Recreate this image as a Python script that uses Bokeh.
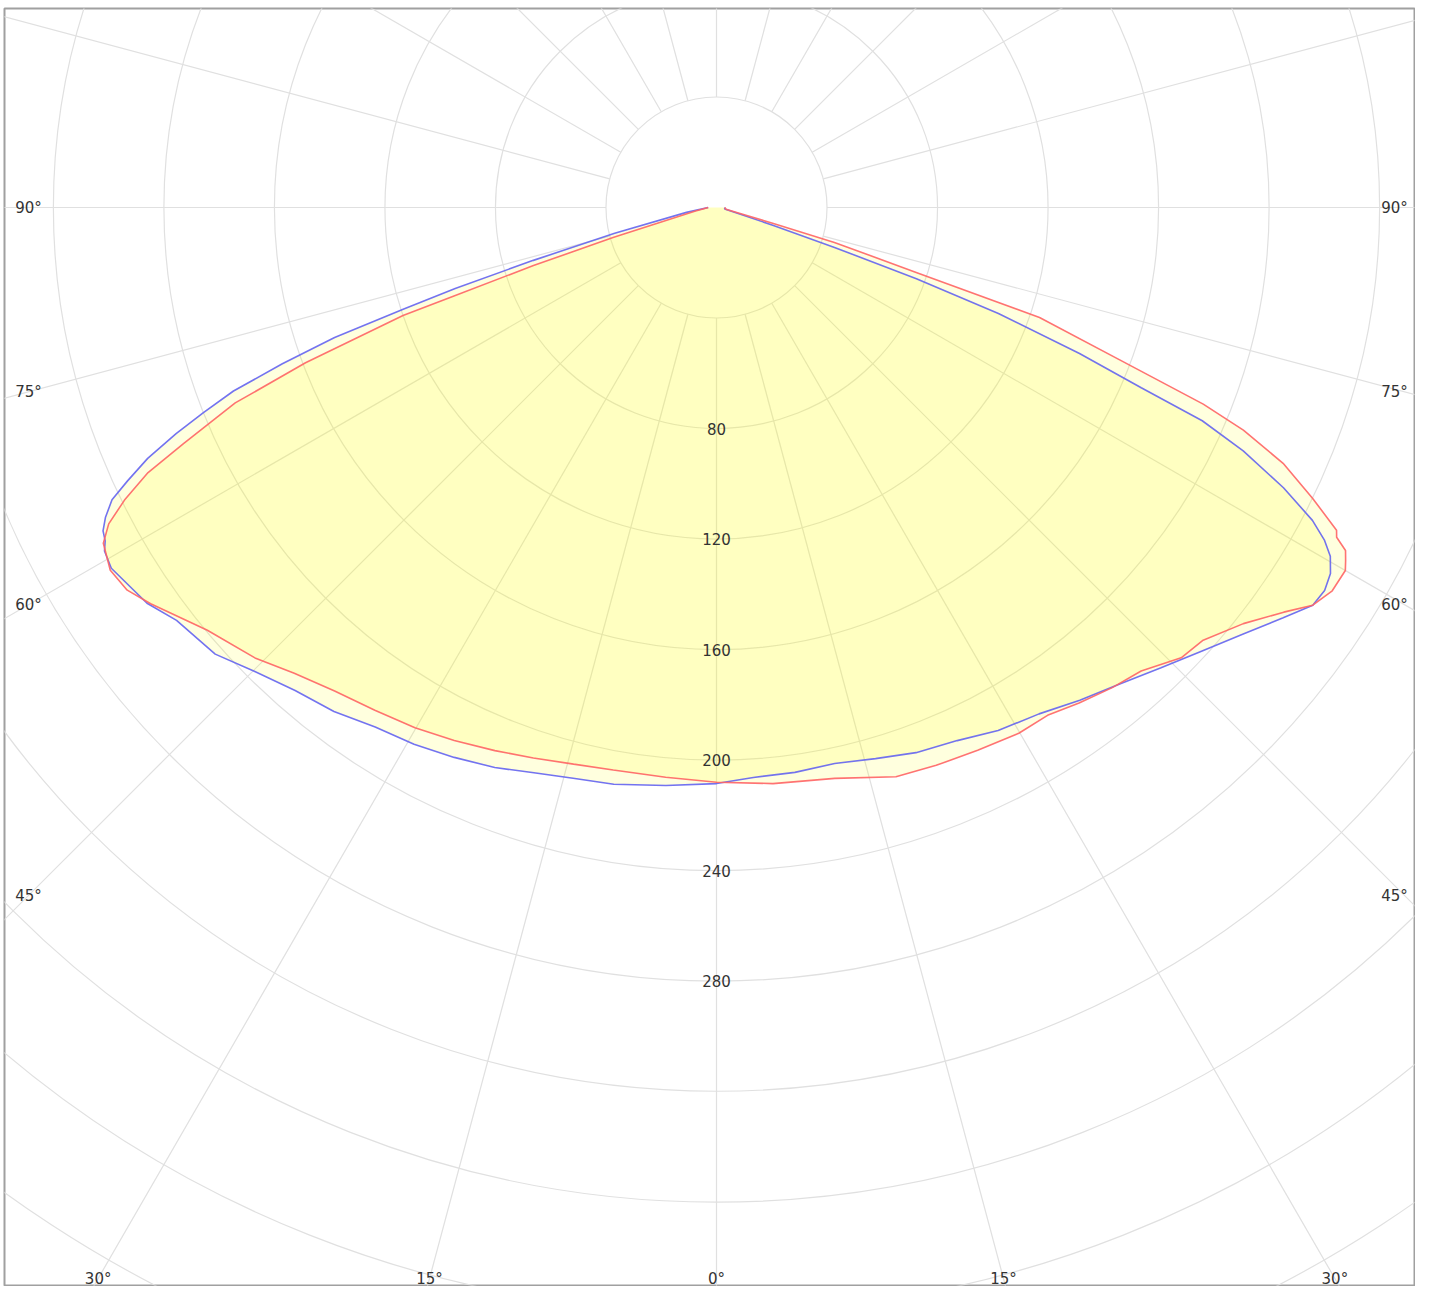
import numpy as np
from bokeh.plotting import figure
from bokeh.models import Range1d
from bokeh.embed import file_html
from bokeh.resources import INLINE
from bokeh.core.properties import value

# photometric data: gamma angle (deg, left side negative) and intensity (cd/klm)
# C0-C180 plane (blue curve)
blue_angle = [-90, -80.8, -75.8, -73.9, -72.8, -72.0, -71.2, -70.2, -69.2, -68.2,
              -67.3, -66.2, -65.1, -64.2, -63.1, -62.2, -61.4, -60.7, -59.2, -55.2,
              -52.6, -48.3, -44.9, -41.1, -37.2, -33.3, -29.4, -25.5, -21.6, -17.9,
              -14.1, -10.1, -5.0, 0, 3.7, 7.9, 12.0, 16.1, 20.1, 24.3,
              28.3, 32.5, 36.4, 40.3, 44.0, 47.6, 51.0, 54.1, 56.3, 57.8,
              59.2, 60.4, 61.3, 62.3, 63.7, 65.2, 66.3, 67.0, 68.1, 69.4,
              70.4, 71.3, 72.5, 75, 80, 90]
blue_cd = [3, 11, 38, 69, 99, 119, 146, 167, 187, 200,
           212, 225, 235, 243, 248, 251, 252, 254, 255, 251,
           246, 243, 237, 232, 229, 225, 223, 220.5, 218, 215,
           213, 212, 210, 208.5, 206.7, 206.4, 205.7, 207.6, 210.1, 211.7,
           215, 217.3, 221.6, 226, 231.6, 238, 245.3, 253.2, 259.4, 260.1,
           258.7, 255.5, 250.9, 243.6, 228.9, 210, 192, 167, 141.6, 109,
           76.8, 45.1, 21.6, 7, 3, 3]

# C90-C270 plane (red curve)
red_angle = [-90, -80, -73.8, -72.4, -71.4, -71.0, -69.3, -67.9, -66.1, -65.0,
             -63.7, -62.5, -61.3, -59.1, -57.0, -55.0, -50.3, -45.7, -42.2, -38.3,
             -34.2, -30.1, -26.2, -22.2, -18.4, -14.4, -10.4, -5.1, 0, 5.6,
             11.7, 17.5, 21.5, 25.7, 29.9, 33.1, 36.2, 39.5, 42.5, 45.9,
             48.3, 51.7, 54.5, 56.3, 58.1, 60.0, 60.7, 61.4, 62.0, 62.5,
             64.0, 65.7, 67.1, 68.0, 69.3, 71.2, 72.0, 73.5, 74.3, 76,
             80, 90]
red_cd = [3, 8, 39, 69.5, 100, 120, 159, 188, 211, 227,
          239, 248, 253, 255.7, 254.3, 250, 239.5, 233.4, 227.5, 223,
          220, 217.6, 215, 212.3, 210, 208, 207, 207, 208, 209.5,
          211, 216, 217, 218, 219.5, 219.4, 222.2, 225.2, 227.5, 234.2,
          235.6, 243, 252.2, 259.4, 262.5, 262.8, 261.1, 259.3, 254.2, 253,
          240, 225, 207, 190, 156, 123.5, 76, 44.5, 21.4, 8.5,
          3.5, 3]

ring_values = [40, 80, 120, 160, 200, 240, 280, 320, 360, 400, 440, 480]
ring_labels = [80, 120, 160, 200, 240, 280]
spoke_angles = list(range(0, 360, 15))
angle_labels = [-90, -75, -60, -45, -30, -15, 0, 15, 30, 45, 60, 75, 90]

# layout
W, H = 1415, 1286
scale = 2.763              # pixels per cd/klm
bl, bt, br, bb = 4, 8, 1, 1  # borders round the frame
fw, fh = W - bl - br, H - bt - bb
cx, cy = 716 - bl, 207 - bt  # centre of the diagram inside the frame (px)

p = figure(width=W, height=H, output_backend="svg", toolbar_location=None,
           x_range=Range1d(-cx / scale, (fw - cx) / scale),
           y_range=Range1d(-(fh - cy) / scale, cy / scale),
           min_border_left=bl, min_border_top=bt,
           min_border_right=br, min_border_bottom=bb)
p.axis.visible = False
p.grid.visible = False
p.background_fill_color = "white"
p.border_fill_color = "white"
p.outline_line_color = "#a0a0a0"
p.outline_line_width = 2


def to_xy(ang, r):
    a = np.radians(np.asarray(ang, dtype=float))
    r = np.asarray(r, dtype=float)
    return r * np.sin(a), -r * np.cos(a)


grid_col = "#e0e0e0"
p.circle(x=[0] * len(ring_values), y=[0] * len(ring_values), radius=ring_values,
         fill_color=None, line_color=grid_col, line_width=1.2)

sx, sy = [], []
for a in spoke_angles:
    x0, y0 = to_xy([a, a], [ring_values[0], 600])
    sx.append(list(x0))
    sy.append(list(y0))
p.multi_line(sx, sy, line_color=grid_col, line_width=1.2)

bx, by = to_xy(blue_angle, blue_cd)
rx, ry = to_xy(red_angle, red_cd)
p.patch(bx, by, fill_color="#ffff00", fill_alpha=0.13, line_color=None)
p.patch(rx, ry, fill_color="#ffff00", fill_alpha=0.13, line_color=None)
p.line(bx, by, line_color="#6464f0", line_width=1.6, line_alpha=0.9)
p.line(rx, ry, line_color="#ff6464", line_width=1.6, line_alpha=0.9)

font = value("DejaVu Sans")
p.text(x=[0] * len(ring_labels), y=[-v for v in ring_labels], text=[str(v) for v in ring_labels],
       text_align="center", text_baseline="middle", text_font=font,
       text_font_size="15px", text_color="#333333")

# degree labels sit where each spoke meets an inset box
side = 688 / scale
right_x = 678 / scale   # pulled in a little so the right column fits
bottom = 1071 / scale
lx, ly, lt = [], [], []
for a in angle_labels:
    t = np.tan(np.radians(abs(a))) if abs(a) < 90 else np.inf
    if t * bottom > side:
        x = -side if a < 0 else right_x
        y = -side / t if np.isfinite(t) else 0.0
    else:
        x = bottom * t * np.sign(a)
        y = -bottom
    lx.append(x)
    ly.append(y)
    lt.append(f"{abs(a)}°")
p.text(x=lx, y=ly, text=lt, text_align="center", text_baseline="middle",
       text_font=font, text_font_size="15px", text_color="#333333")

open("out.html", "w").write(file_html(p, INLINE))
